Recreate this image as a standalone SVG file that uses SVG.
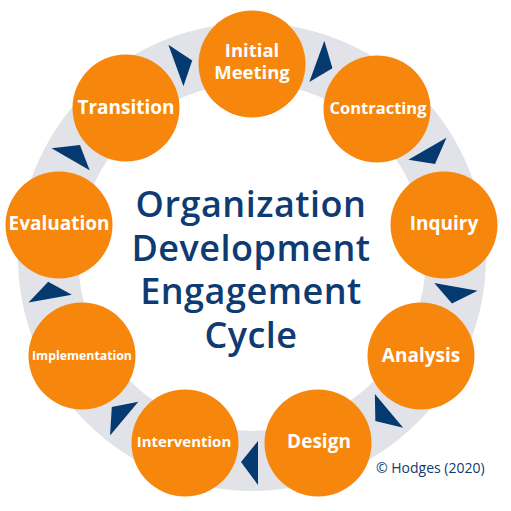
<svg xmlns="http://www.w3.org/2000/svg" xmlns:xlink="http://www.w3.org/1999/xlink" width="511" height="511" viewBox="0 0 511 511">
  <style>
    .node { fill: #f7870c; }
    .lbl { fill: #ffffff; font-family: "Open Sans", "Liberation Sans", sans-serif; font-weight: bold; text-anchor: middle; }
    .title { fill: #0e3b72; font-family: "Open Sans", "Liberation Sans", sans-serif; font-weight: 600; font-size: 36px; text-anchor: middle; letter-spacing: 0.5px; }
    .copy { fill: #0e3b72; font-family: "Open Sans", "Liberation Sans", sans-serif; font-size: 14px; }
    .arrow { fill: #053a70; }
  </style>
  <defs>
    <polygon id="arr" class="arrow" points="258,441 258,485 241,462"/>
  </defs>
  <rect width="511" height="511" fill="#ffffff"/>
  <circle cx="252" cy="257" r="204" fill="none" stroke="#e2e2e9" stroke-width="60"/>
  <g id="connectors">
    <use xlink:href="#arr"/>
    <use xlink:href="#arr" transform="rotate(-40 252 257)"/>
    <use xlink:href="#arr" transform="rotate(-80 252 257)"/>
    <use xlink:href="#arr" transform="rotate(-120 252 257)"/>
    <use xlink:href="#arr" transform="rotate(-160 252 257)"/>
    <use xlink:href="#arr" transform="rotate(-200 252 257)"/>
    <use xlink:href="#arr" transform="rotate(-240 252 257)"/>
    <use xlink:href="#arr" transform="rotate(-280 252 257)"/>
    <use xlink:href="#arr" transform="rotate(-320 252 257)"/>
  </g>
  <g id="initial-meeting">
    <circle class="node" cx="252" cy="64" r="53.5"/>
    <text class="lbl" x="252" y="57" font-size="18.5">Initial</text>
    <text class="lbl" x="252" y="79" font-size="18.5">Meeting</text>
  </g>
  <g id="contracting">
    <circle class="node" cx="377" cy="109" r="53.5"/>
    <text class="lbl" x="378" y="114" font-size="16.5">Contracting</text>
  </g>
  <g id="inquiry">
    <circle class="node" cx="444" cy="225" r="53.5"/>
    <text class="lbl" x="444" y="230" font-size="19">Inquiry</text>
  </g>
  <g id="analysis">
    <circle class="node" cx="421" cy="356" r="53.5"/>
    <text class="lbl" x="421" y="362" font-size="19">Analysis</text>
  </g>
  <g id="design">
    <circle class="node" cx="318" cy="443" r="53.5"/>
    <text class="lbl" x="319" y="448" font-size="19">Design</text>
  </g>
  <g id="intervention">
    <circle class="node" cx="185" cy="443" r="53.5"/>
    <text class="lbl" x="184" y="447" font-size="15">Intervention</text>
  </g>
  <g id="implementation">
    <circle class="node" cx="82" cy="356" r="53.5"/>
    <text class="lbl" x="82" y="360" font-size="12.3">Implementation</text>
  </g>
  <g id="evaluation">
    <circle class="node" cx="59" cy="225" r="53.5"/>
    <text class="lbl" x="59" y="230" font-size="19">Evaluation</text>
  </g>
  <g id="transition">
    <circle class="node" cx="126" cy="108" r="53.5"/>
    <text class="lbl" x="126" y="114" font-size="19">Transition</text>
  </g>
  <g id="title">
    <text class="title" x="251" y="217">Organization</text>
    <text class="title" x="251" y="261">Development</text>
    <text class="title" x="251" y="304">Engagement</text>
    <text class="title" x="251" y="348">Cycle</text>
  </g>
  <text class="copy" x="376" y="473">© Hodges (2020)</text>
</svg>
